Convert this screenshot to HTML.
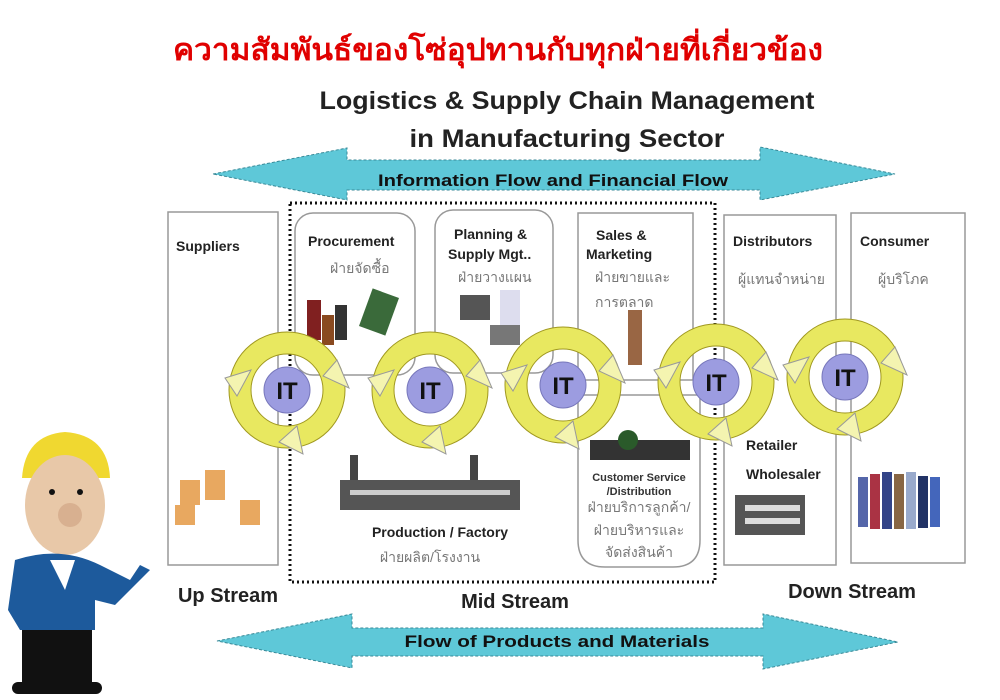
<!DOCTYPE html>
<html><head><meta charset="utf-8"><style>
html,body{margin:0;padding:0;background:#fff;}
svg{display:block;}
text{font-family:"Liberation Sans","Noto Sans CJK SC",sans-serif;}
.b{font-weight:bold;}
.th{fill:#777;font-size:14px;}
</style></head><body>
<svg width="1000" height="700" viewBox="0 0 1000 700" xmlns="http://www.w3.org/2000/svg">
<defs>
<g id="cyc">
 <circle r="47" fill="none" stroke="#e8e860" stroke-width="22"/>
 <circle r="58" fill="none" stroke="#a09820" stroke-width="1"/>
 <circle r="36" fill="none" stroke="#a09820" stroke-width="1"/>
 <path d="M-62,-12 L-36,-20 L-50,6 Z" fill="#f4f4b0" stroke="#999" stroke-width="1"/>
 <path d="M50,-30 L62,-2 L36,-14 Z" fill="#f4f4b0" stroke="#999" stroke-width="1"/>
 <path d="M-8,52 L16,64 L10,36 Z" fill="#f4f4b0" stroke="#999" stroke-width="1"/>
 <circle r="23" fill="#9c9ce0" stroke="#7777bb" stroke-width="1"/>
 <text x="0" y="9" text-anchor="middle" class="b" font-size="24" fill="#111">IT</text>
</g>
</defs>
<text x="498" y="60" text-anchor="middle" class="b" font-size="30" fill="#e00000" textLength="650" lengthAdjust="spacingAndGlyphs">ความสัมพันธ์ของโซ่อุปทานกับทุกฝ่ายที่เกี่ยวข้อง</text>
<text x="567" y="109" text-anchor="middle" class="b" font-size="25" fill="#222" textLength="495" lengthAdjust="spacingAndGlyphs">Logistics &amp; Supply Chain Management</text>
<text x="567" y="147" text-anchor="middle" class="b" font-size="25" fill="#222" textLength="315" lengthAdjust="spacingAndGlyphs">in Manufacturing  Sector</text>

<polygon points="213,174 347,148 347,160 760,160 760,147 895,174 760,200 760,190 347,190 347,200" fill="#5ec8d8" stroke="#3a8a98" stroke-width="1" stroke-dasharray="3,2"/>
<text x="553" y="186" text-anchor="middle" class="b" font-size="17" fill="#111" textLength="350" lengthAdjust="spacingAndGlyphs">Information Flow and Financial Flow</text>
<polygon points="217,641 352,614 352,628 763,628 763,614 898,642 763,669 763,656 352,656 352,668" fill="#5ec8d8" stroke="#3a8a98" stroke-width="1" stroke-dasharray="3,2"/>
<text x="557" y="647" text-anchor="middle" class="b" font-size="17" fill="#111" textLength="305" lengthAdjust="spacingAndGlyphs">Flow of Products and Materials</text>

<rect x="168" y="212" width="110" height="353" fill="none" stroke="#999" stroke-width="1.5"/>
<text x="176" y="251" class="b" font-size="14" fill="#222">Suppliers</text>
<rect x="290" y="203" width="425" height="379" fill="none" stroke="#111" stroke-width="3" stroke-dasharray="2,3"/>
<rect x="295" y="213" width="120" height="162" rx="18" fill="#fff" stroke="#999" stroke-width="1.5"/>
<text x="308" y="246" class="b" font-size="14" fill="#222">Procurement</text>
<text x="330" y="273" class="th">ฝ่ายจัดซื้อ</text>
<rect x="307" y="300" width="14" height="40" fill="#802020"/><rect x="322" y="315" width="12" height="30" fill="#8a4a20"/><rect x="335" y="305" width="12" height="35" fill="#333"/>
<rect x="365" y="292" width="28" height="40" fill="#3a6a3a" transform="rotate(20 379 312)"/>
<rect x="435" y="210" width="118" height="163" rx="18" fill="#fff" stroke="#999" stroke-width="1.5"/>
<text x="454" y="239" class="b" font-size="14" fill="#222">Planning &amp;</text>
<text x="448" y="259" class="b" font-size="14" fill="#222">Supply Mgt..</text>
<text x="458" y="282" class="th">ฝ่ายวางแผน</text>
<rect x="460" y="295" width="30" height="25" fill="#555"/><rect x="500" y="290" width="20" height="40" fill="#dde" /><rect x="490" y="325" width="30" height="20" fill="#777"/>
<rect x="578" y="213" width="115" height="167" fill="#fff" stroke="#999" stroke-width="1.5"/>
<text x="596" y="240" class="b" font-size="14" fill="#222">Sales &amp;</text>
<text x="586" y="259" class="b" font-size="14" fill="#222">Marketing</text>
<text x="595" y="282" class="th">ฝ่ายขายและ</text>
<text x="595" y="307" class="th">การตลาด</text>
<rect x="628" y="310" width="14" height="55" fill="#964"/>
<path d="M578,395 H700 V540 Q700,567 673,567 H605 Q578,567 578,540 Z" fill="#fff" stroke="#999" stroke-width="1.5"/>
<rect x="590" y="440" width="100" height="20" fill="#333"/><circle cx="628" cy="440" r="10" fill="#2a5a2a"/>
<text x="639" y="481" text-anchor="middle" class="b" font-size="11" fill="#333">Customer Service</text>
<text x="639" y="495" text-anchor="middle" class="b" font-size="11" fill="#333">/Distribution</text>
<text x="639" y="512" text-anchor="middle" class="th" font-size="12">ฝ่ายบริการลูกค้า/</text>
<text x="639" y="535" text-anchor="middle" class="th" font-size="12">ฝ่ายบริหารและ</text>
<text x="639" y="557" text-anchor="middle" class="th" font-size="12">จัดส่งสินค้า</text>
<rect x="724" y="215" width="112" height="350" fill="none" stroke="#999" stroke-width="1.5"/>
<text x="733" y="246" class="b" font-size="14" fill="#222">Distributors</text>
<text x="738" y="284" class="th">ผู้แทนจำหน่าย</text>
<text x="746" y="450" class="b" font-size="14" fill="#222">Retailer</text>
<text x="746" y="479" class="b" font-size="14" fill="#222">Wholesaler</text>
<rect x="735" y="495" width="70" height="40" fill="#555"/><rect x="745" y="505" width="55" height="6" fill="#ddd"/><rect x="745" y="518" width="55" height="6" fill="#ddd"/>
<rect x="851" y="213" width="114" height="350" fill="none" stroke="#999" stroke-width="1.5"/>
<text x="860" y="246" class="b" font-size="14" fill="#222">Consumer</text>
<text x="878" y="284" class="th">ผู้บริโภค</text>
<g fill="#5566aa"><rect x="858" y="477" width="10" height="50"/><rect x="870" y="474" width="10" height="55" fill="#aa3344"/><rect x="882" y="472" width="10" height="57" fill="#334488"/><rect x="894" y="474" width="10" height="55" fill="#886644"/><rect x="906" y="472" width="10" height="57" fill="#99aacc"/><rect x="918" y="476" width="10" height="52" fill="#223366"/><rect x="930" y="477" width="10" height="50" fill="#4466bb"/></g>

<rect x="340" y="480" width="180" height="30" fill="#555"/><rect x="350" y="455" width="8" height="25" fill="#444"/><rect x="470" y="455" width="8" height="25" fill="#444"/>
<g fill="#ccc"><rect x="350" y="490" width="160" height="5"/></g>
<text x="440" y="537" text-anchor="middle" class="b" font-size="14" fill="#222">Production / Factory</text>
<text x="430" y="562" text-anchor="middle" class="th">ฝ่ายผลิต/โรงงาน</text>
<g fill="#e8a860"><rect x="180" y="480" width="20" height="25"/><rect x="205" y="470" width="20" height="30"/><rect x="240" y="500" width="20" height="25"/><rect x="175" y="505" width="20" height="20"/></g>

<use href="#cyc" x="287" y="390"/>
<use href="#cyc" x="430" y="390"/>
<use href="#cyc" x="563" y="385"/>
<use href="#cyc" x="716" y="382"/>
<use href="#cyc" x="845" y="377"/>

<text x="228" y="602" text-anchor="middle" class="b" font-size="20" fill="#222">Up Stream</text>
<text x="515" y="608" text-anchor="middle" class="b" font-size="20" fill="#222">Mid Stream</text>
<text x="852" y="598" text-anchor="middle" class="b" font-size="20" fill="#222">Down Stream</text>

<!-- man -->
<path d="M22,478 Q25,435 65,432 Q108,435 110,478 Z" fill="#f0d830"/>
<ellipse cx="65" cy="505" rx="40" ry="50" fill="#e8c8a8"/>
<circle cx="52" cy="492" r="3" fill="#111"/><circle cx="80" cy="492" r="3" fill="#111"/>
<circle cx="70" cy="515" r="12" fill="#d8b090"/>
<path d="M15,560 Q60,545 100,565 L130,580 L140,565 L150,570 L115,605 L95,600 L95,630 L20,630 L8,610 Z" fill="#1d5a9c"/>
<path d="M50,560 L65,590 L75,560 Z" fill="#fff"/>
<rect x="22" y="630" width="70" height="55" fill="#111"/>
<rect x="12" y="682" width="90" height="12" rx="6" fill="#111"/>
</svg>
</body></html>
